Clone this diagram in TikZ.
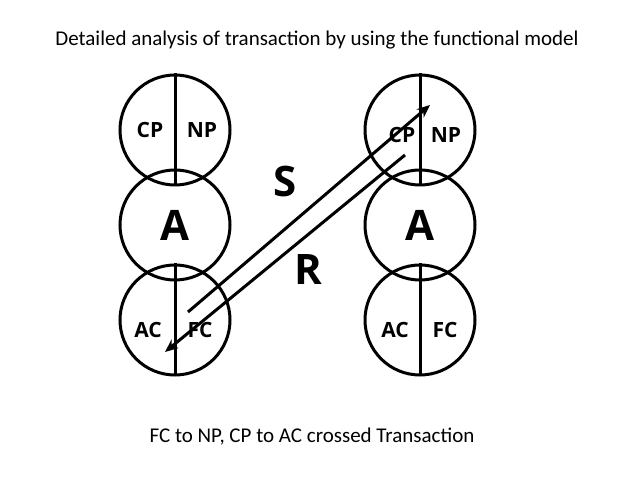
\documentclass[tikz,border=0pt]{standalone}
\usetikzlibrary{arrows.meta}
\usepackage{fontspec}
\setmainfont{Carlito}
\newfontfamily\lab{Open Sans}
\begin{document}
\begin{tikzpicture}[x=1pt,y=-1pt,
 circ/.style={draw,line width=3pt,circle,minimum size=110pt,inner sep=0pt},
 lbl/.style={font=\lab\bfseries\fontsize{21}{24}\selectfont},
 big/.style={font=\lab\bfseries\fontsize{42}{46}\selectfont},
 arr/.style={line width=3pt,-{Stealth[length=13pt,width=11pt]}}]
\useasboundingbox (0,0) rectangle (638,478);
\node[font=\fontsize{21}{25}\selectfont] (title) at (317,40) {Detailed analysis of transaction by using the functional model};
\node[font=\fontsize{21}{25}\selectfont] (foot) at (312,437) {FC to NP, CP to AC crossed Transaction};
\foreach \n/\x in {L/175,R/420}{
 \node[circ] (\n t) at (\x,130) {};
 \node[circ] (\n m) at (\x,225) {};
 \node[circ] (\n b) at (\x,320) {};
 \draw[line width=3pt] (\n t.north) -- (\n t.south);
 \draw[line width=3pt] (\n b.north) -- (\n b.south);
 \node[big] (\n A) at (\x,225) {A};
}
\node[lbl] (cp1) at (150,130) {CP};
\node[lbl] (np1) at (202,130) {NP};
\node[lbl] (ac1) at (148,330) {AC};
\node[lbl] (fc1) at (200,330) {FC};
\node[lbl] (cp2) at (402,135) {CP};
\node[lbl] (np2) at (446,135) {NP};
\node[lbl] (ac2) at (395,330) {AC};
\node[lbl] (fc2) at (445,330) {FC};
\node[big] (S) at (285,182) {S};
\node[big] (Rl) at (308,270) {R};
\coordinate (s1) at (188,312);
\coordinate (s2) at (430,105);
\coordinate (r1) at (405,155);
\coordinate (r2) at (165,352);
\draw[arr] (s1) -- (s2);
\draw[arr] (r1) -- (r2);
\end{tikzpicture}
\end{document}
